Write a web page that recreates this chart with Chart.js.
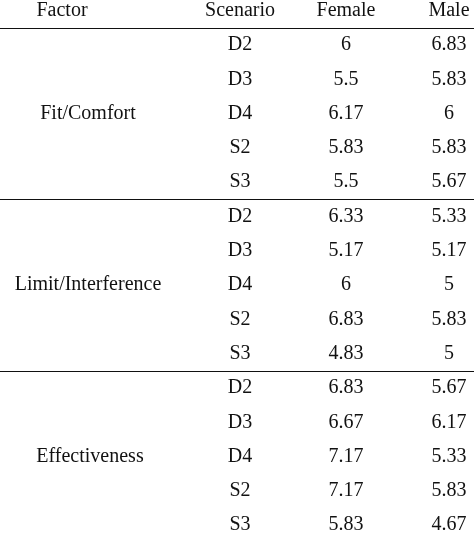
<!DOCTYPE html>
<html><head><meta charset="utf-8">
<script src="https://cdn.jsdelivr.net/npm/chart.js@4"></script>
<style>html,body{margin:0;padding:0;background:#fff}#w{width:474px;height:540px}</style>
</head><body><div id="w"><canvas id="c"></canvas></div>
<script>
const headers = ["Factor","Scenario","Female","Male"];
const factors = ["Fit/Comfort","Limit/Interference","Effectiveness"];
const scenarios = ["D2","D3","D4","S2","S3"];
const female = [6,5.5,6.17,5.83,5.5, 6.33,5.17,6,6.83,4.83, 6.83,6.67,7.17,7.17,5.83];
const male = [6.83,5.83,6,5.83,5.67, 5.33,5.17,5,5.83,5, 5.67,6.17,5.33,5.83,4.67];
const colX = [62,240,346,449];

const tablePlugin = {
  id:'table',
  afterDraw(chart){
    const ctx=chart.ctx, xs=chart.scales.x, ys=chart.scales.y;
    ctx.save();
    ctx.fillStyle='#111'; ctx.strokeStyle='#111';
    ctx.font='20px "Liberation Serif", "DejaVu Serif", serif';
    ctx.textAlign='center'; ctx.textBaseline='middle';
    headers.forEach((h,i)=>ctx.fillText(h, xs.getPixelForValue(colX[i]), ys.getPixelForValue(-1)));
    ctx.lineWidth=1.2;
    [-0.5,4.5,9.5].forEach(v=>{const y=Math.round(ys.getPixelForValue(v))+0.5;ctx.beginPath();ctx.moveTo(0,y);ctx.lineTo(chart.width,y);ctx.stroke();});
    factors.forEach((f,g)=>ctx.fillText(f, xs.getPixelForValue(colX[0])+26*(g===1)+ (g===2?28:0) + (g===0?26:0), ys.getPixelForValue(g*5+2)));
    for(let r=0;r<15;r++){
      const y=ys.getPixelForValue(r);
      ctx.fillText(scenarios[r%5], xs.getPixelForValue(colX[1]), y);
      ctx.fillText(String(female[r]), xs.getPixelForValue(colX[2]), y);
      ctx.fillText(String(male[r]), xs.getPixelForValue(colX[3]), y);
    }
    ctx.restore();
  }
};
new Chart(document.getElementById('c'),{
  type:'scatter',
  data:{datasets:[{data:[],pointRadius:0}]},
  options:{responsive:true,maintainAspectRatio:false,animation:false,
    layout:{padding:0},
    plugins:{legend:{display:false},tooltip:{enabled:false}},
    scales:{
      x:{type:'linear',min:0,max:474,display:false},
      y:{type:'linear',min:-1.312,max:14.43,reverse:true,display:false}
    }},
  plugins:[tablePlugin]
});
</script></body></html>
